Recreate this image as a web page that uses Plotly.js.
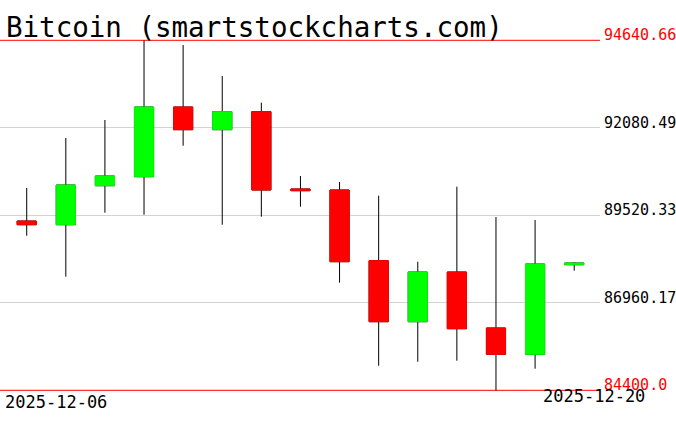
<!DOCTYPE html>
<html>
<head>
<meta charset="utf-8">
<script src="https://cdn.plot.ly/plotly-3.0.1.min.js"></script>
<style>
  html, body { margin: 0; padding: 0; background: #ffffff; }
  #chart { width: 676px; height: 431px; }
</style>
</head>
<body>
<div id="chart"></div>
<script>
const dates = ['2025-12-06','2025-12-07','2025-12-08','2025-12-09','2025-12-10','2025-12-11','2025-12-12','2025-12-13','2025-12-14','2025-12-15','2025-12-16','2025-12-17','2025-12-18','2025-12-19','2025-12-20'];
const openV  = [89353, 89245, 90386, 90650, 92689, 92025, 92552, 90290, 90261, 88192, 86407, 87861, 86223, 85453, 88075];
const highV  = [90319, 91782, 92309, 94640.66, 94503, 93596, 92815, 90670, 90495, 90094, 88163, 90357, 89470, 89383, 88154];
const lowV   = [88923, 87724, 89597, 89538, 91557, 89245, 89479, 89772, 87549, 85120, 85237, 85266, 84400.0, 85032, 87899];
const closeV = [89245, 90407, 90670, 92689, 92025, 92552, 90261, 90240, 88163, 86407, 87861, 86202, 85453, 88095, 88125];

const yTickVals   = [84400.0, 86960.17, 89520.33, 92080.49, 94640.66];
const yTickLabels = ['84400.0', '86960.17', '89520.33', '92080.49', '94640.66'];

const titleText = 'Bitcoin (smartstockcharts.com)';

const GREEN = '#00ff00';
const RED = '#ff0000';
const MONO = '"DejaVu Sans Mono", monospace';

const hi = Math.max(...highV);
const lo = Math.min(...lowV);
const span = hi - lo;

const bodyTop = openV.map((o, i) => Math.max(o, closeV[i]));
const bodyBot = openV.map((o, i) => Math.min(o, closeV[i]));

const wicks = {
  type: 'candlestick',
  x: dates, open: openV, high: highV, low: lowV, close: closeV,
  increasing: { line: { color: '#000000', width: 1 }, fillcolor: GREEN },
  decreasing: { line: { color: '#000000', width: 1 }, fillcolor: RED },
  whiskerwidth: 0,
  hoverinfo: 'skip',
  showlegend: false
};
const bodies = {
  type: 'candlestick',
  x: dates, open: openV, high: bodyTop, low: bodyBot, close: closeV,
  increasing: { line: { color: GREEN, width: 1 }, fillcolor: GREEN },
  decreasing: { line: { color: RED, width: 1 }, fillcolor: RED },
  whiskerwidth: 0,
  hoverinfo: 'skip',
  showlegend: false
};

const annotations = yTickVals.map((v, i) => ({
  x: 1, xref: 'paper', xanchor: 'left', xshift: 2,
  y: v, yref: 'y', yanchor: 'bottom', yshift: -6,
  text: yTickLabels[i], showarrow: false,
  font: { family: MONO, size: 15, color: (i === 0 || i === yTickVals.length - 1) ? RED : '#000000' }
}));
annotations.push({
  x: 0, xref: 'paper', xanchor: 'left', xshift: 3,
  y: 0.0257, yref: 'paper', yanchor: 'top',
  text: dates[0], showarrow: false,
  font: { family: MONO, size: 17, color: '#000000' }
});
annotations.push({
  x: 1.0783, xref: 'paper', xanchor: 'right',
  y: 0.042, yref: 'paper', yanchor: 'top',
  text: dates[dates.length - 1], showarrow: false,
  font: { family: MONO, size: 17, color: '#000000' }
});

const layout = {
  width: 676, height: 431,
  margin: { l: 0, r: 76, t: 30, b: 31, pad: 0 },
  paper_bgcolor: '#ffffff', plot_bgcolor: '#ffffff',
  title: {
    text: titleText,
    xref: 'container', x: 6 / 676, xanchor: 'left',
    yref: 'container', y: 1 - 18 / 431, yanchor: 'top',
    font: { family: MONO, size: 27.5, color: '#000000' }
  },
  showlegend: false,
  xaxis: {
    type: 'category',
    range: [-0.683, 14.66],
    showgrid: false, zeroline: false, showline: false,
    showticklabels: false, ticks: '',
    rangeslider: { visible: false },
    fixedrange: true
  },
  yaxis: {
    range: [lo - span * 9.7 / 350, hi + span * 10.3 / 350],
    tickvals: yTickVals.slice(1, -1),
    showticklabels: false, ticks: '',
    showgrid: true, gridcolor: '#d3d3d3', gridwidth: 1,
    zeroline: false, showline: false,
    fixedrange: true
  },
  shapes: [lo, hi].map(v => ({
    type: 'line', xref: 'paper', x0: 0, x1: 1, yref: 'y', y0: v, y1: v,
    line: { color: RED, width: 1 }, layer: 'below'
  })),
  annotations: annotations
};

Plotly.newPlot('chart', [wicks, bodies], layout, { displayModeBar: false, staticPlot: true });
</script>
</body>
</html>
